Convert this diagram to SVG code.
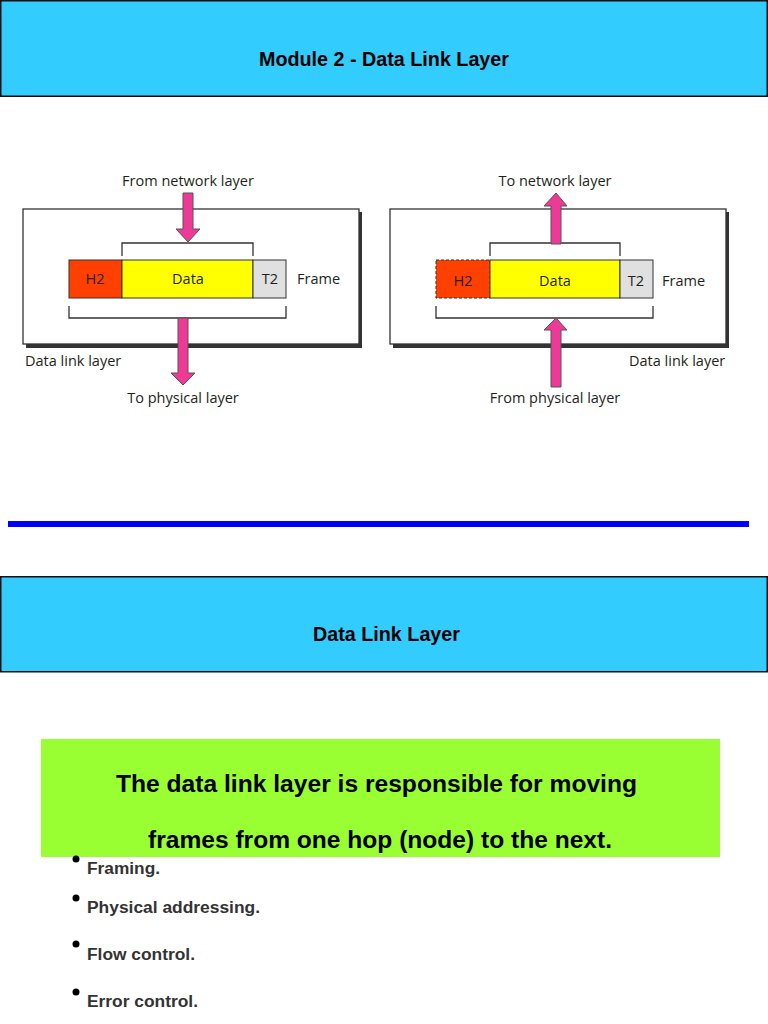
<svg xmlns="http://www.w3.org/2000/svg" width="768" height="1024" viewBox="0 0 768 1024">
<style>
.hdr{fill:#33ccff;stroke:#111;stroke-width:1.5}
.htxt{font-family:"Liberation Sans",Arial,sans-serif;font-weight:bold;font-size:19.5px;fill:#000;text-anchor:middle}
.box{fill:#fff;stroke:#333;stroke-width:1.3}
.shadow{fill:#333}
.lbl{font-family:"Open Sans","Liberation Sans",sans-serif;font-size:14.5px;fill:#231f20}
.mid{text-anchor:middle}
.h2{fill:#ff4000;stroke:#333;stroke-width:1}
.data{fill:#ffff00;stroke:#333;stroke-width:1}
.t2{fill:#e0e0e0;stroke:#333;stroke-width:1}
.brk{fill:none;stroke:#333;stroke-width:1.3}
.arr{fill:#ee3a96;stroke:#555;stroke-width:1}
.big{font-family:"Liberation Sans",Arial,sans-serif;font-weight:bold;font-size:23px;fill:#000}
.bul{font-family:"Liberation Sans",Arial,sans-serif;font-weight:bold;font-size:16px;fill:#333}
</style>
<rect width="768" height="1024" fill="#fff"/>
<g id="header1">
<rect class="hdr" x="0.75" y="0.75" width="766.5" height="95.5"/>
<text class="htxt" x="384" y="66" textLength="250" lengthAdjust="spacingAndGlyphs">Module 2 - Data Link Layer</text>
</g>
<g id="left-diagram">
<rect class="shadow" x="26" y="212" width="336" height="136"/>
<rect class="box" x="23" y="209" width="336" height="135"/>
<rect class="h2" x="69" y="260" width="53" height="38"/>
<rect class="data" x="122" y="260" width="131" height="38"/>
<rect class="t2" x="253" y="260" width="33" height="38"/>
<text class="lbl mid" x="95" y="284">H2</text>
<text class="lbl mid" x="188" y="284">Data</text>
<text class="lbl mid" x="270" y="284">T2</text>
<text class="lbl" x="297" y="284">Frame</text>
<text class="lbl mid" x="188" y="186">From network layer</text>
<text class="lbl" x="25" y="366">Data link layer</text>
<text class="lbl mid" x="183" y="403">To physical layer</text>
</g>
<g id="right-diagram">
<rect class="shadow" x="393" y="212" width="336" height="136"/>
<rect class="box" x="390" y="209" width="336" height="135"/>
<rect class="h2" x="436" y="260" width="54" height="38" stroke-dasharray="3,2"/>
<rect class="data" x="490" y="260" width="130" height="38"/>
<rect class="t2" x="620" y="260" width="33" height="38"/>
<text class="lbl mid" x="463" y="286">H2</text>
<text class="lbl mid" x="555" y="286">Data</text>
<text class="lbl mid" x="636" y="286">T2</text>
<text class="lbl" x="662" y="286">Frame</text>
<text class="lbl mid" x="555" y="186">To network layer</text>
<text class="lbl" x="629" y="366">Data link layer</text>
<text class="lbl mid" x="555" y="403">From physical layer</text>
</g>
<g id="connectors">
<path class="brk" d="M122,256 V243 H253 V256"/>
<path class="brk" d="M69,306 V318 H286 V306"/>
<path class="brk" d="M490,256 V243 H620 V256"/>
<path class="brk" d="M436,306 V318 H653 V306"/>
<polygon class="arr" points="183,193 193,193 193,229 200,229 188,242 176,229 183,229"/>
<polygon class="arr" points="178,318 188,318 188,373 195,373 183,385 171,373 178,373"/>
<polygon class="arr" points="551,244 561,244 561,206 567,206 556,193 544,206 551,206"/>
<polygon class="arr" points="551,387 561,387 561,330 567,330 556,318 544,330 551,330"/>
</g>
<g id="divider">
<rect x="8" y="521" width="741" height="6" fill="#0000ff"/>
</g>
<g id="header2">
<rect class="hdr" x="0.75" y="576.75" width="766.5" height="95"/>
<text class="htxt" x="386.5" y="641" textLength="147" lengthAdjust="spacingAndGlyphs">Data Link Layer</text>
</g>
<g id="summary">
<rect x="41" y="739" width="679" height="118" fill="#99ff33"/>
<text class="big" x="116" y="792" textLength="521" lengthAdjust="spacingAndGlyphs">The data link layer is responsible for moving</text>
<text class="big" x="148" y="848" textLength="464" lengthAdjust="spacingAndGlyphs">frames from one hop (node) to the next.</text>
</g>
<g id="bullets">
<circle cx="76" cy="859" r="3.5" fill="#000"/>
<text class="bul" x="87" y="874" textLength="73" lengthAdjust="spacingAndGlyphs">Framing.</text>
<circle cx="76" cy="898" r="3.5" fill="#000"/>
<text class="bul" x="87" y="913" textLength="173" lengthAdjust="spacingAndGlyphs">Physical addressing.</text>
<circle cx="76" cy="944" r="3.5" fill="#000"/>
<text class="bul" x="87" y="960" textLength="108" lengthAdjust="spacingAndGlyphs">Flow control.</text>
<circle cx="76" cy="992" r="3.5" fill="#000"/>
<text class="bul" x="87" y="1007" textLength="111" lengthAdjust="spacingAndGlyphs">Error control.</text>
</g>
</svg>
